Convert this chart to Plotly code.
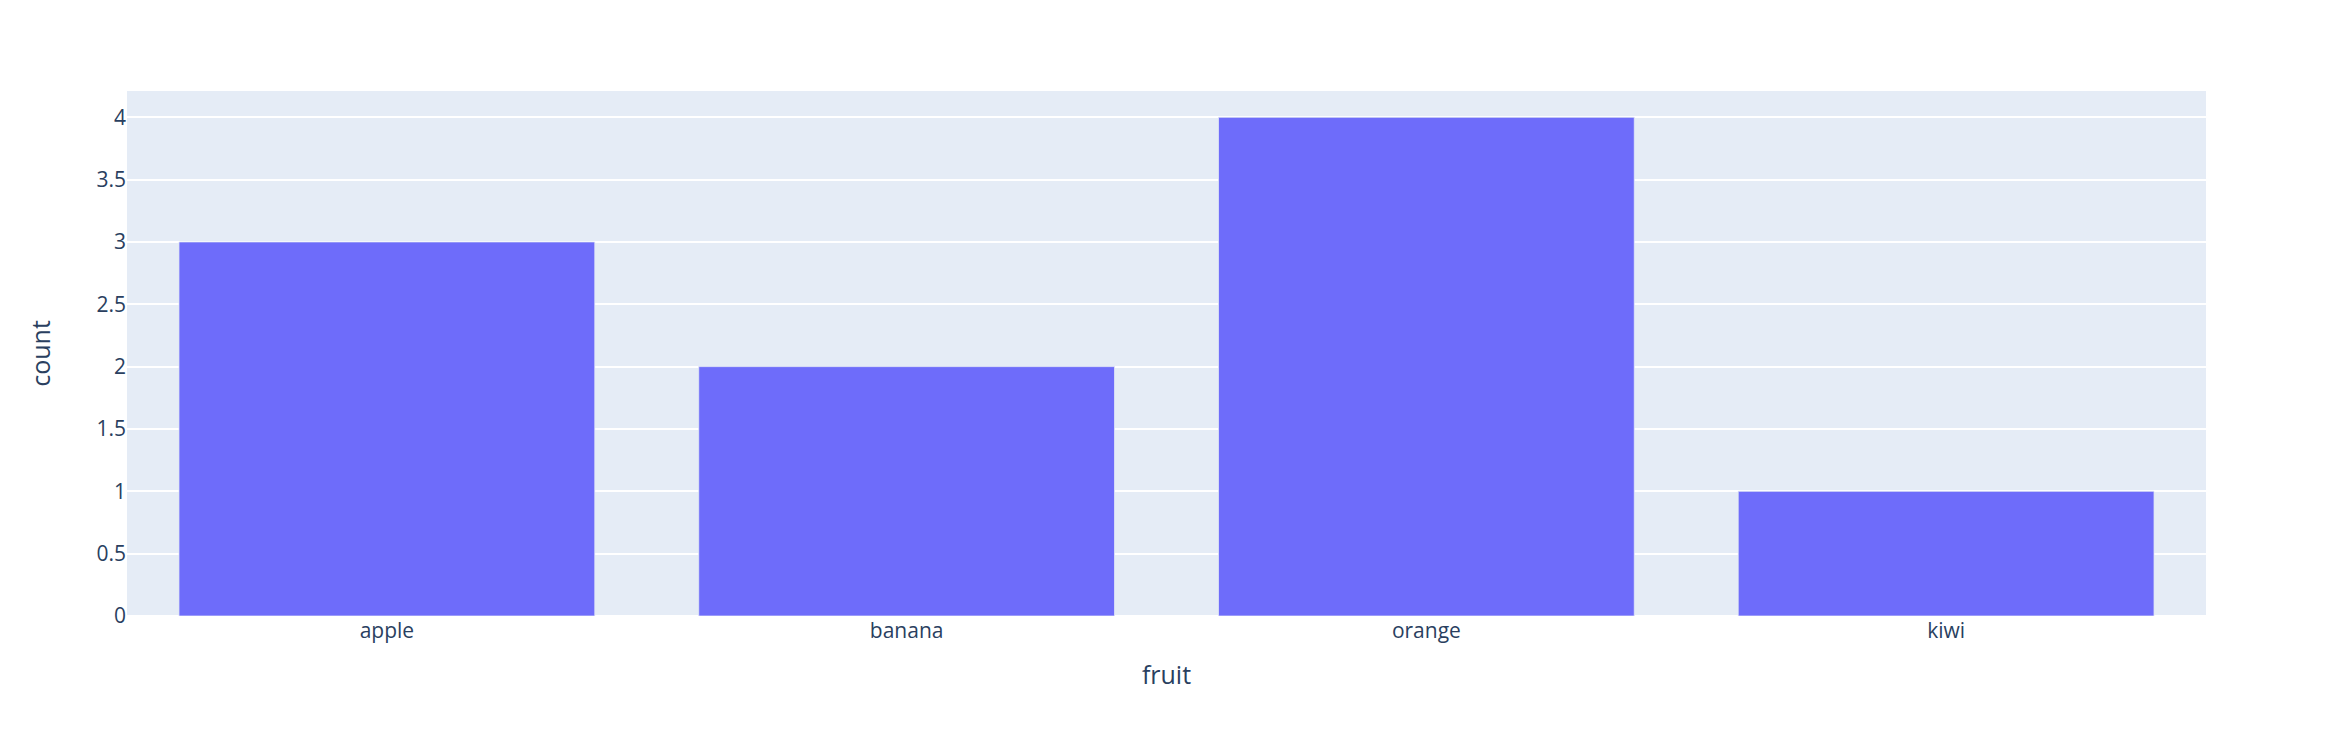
import plotly.graph_objects as go

fruits = ["apple", "banana", "orange", "kiwi"]
counts = [3, 2, 4, 1]

fig = go.Figure(go.Bar(
    x=fruits, y=counts,
    marker=dict(color="#6e6cfa", line=dict(color="#E5ECF6", width=0.75)),
))
fig.update_layout(
    template="plotly",
    margin=dict(l=119, r=125, t=83, b=116),
    font=dict(family="'Open Sans', verdana, arial, sans-serif", size=21, color="#2a3f5f"),
    bargap=0.2,
    xaxis=dict(title=dict(text="fruit", font=dict(size=25), standoff=23), showgrid=False),
    yaxis=dict(title=dict(text="count", font=dict(size=25), standoff=38), gridwidth=1.5,
               zerolinewidth=3, range=[0, 4.2105]),
)
fig.write_html("out.html")
